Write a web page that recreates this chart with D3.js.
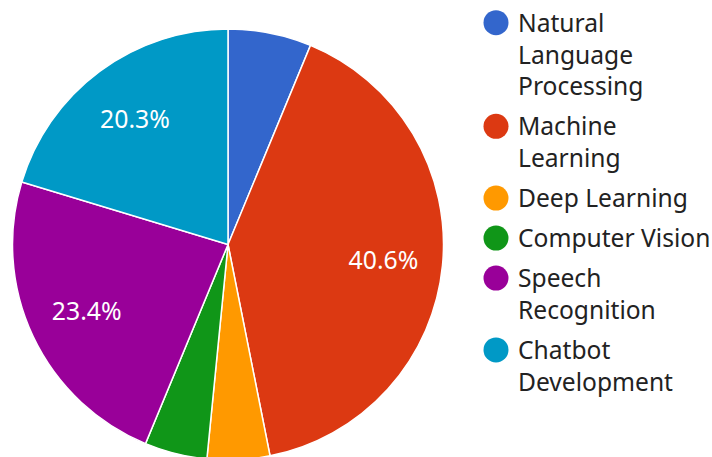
<!DOCTYPE html>
<html><head><meta charset="utf-8">
<script src="https://cdn.jsdelivr.net/npm/d3@7"></script>
<style>html,body{margin:0;padding:0;background:#fff;}svg{display:block;font-family:"Noto Sans",sans-serif;}</style>
</head><body>
<svg id="chart" width="712" height="457"></svg>
<script>
const categories = ["Natural Language Processing","Machine Learning","Deep Learning","Computer Vision","Speech Recognition","Chatbot Development"];
const legendLines = [["Natural","Language","Processing"],["Machine","Learning"],["Deep Learning"],["Computer Vision"],["Speech","Recognition"],["Chatbot","Development"]];
const values = [4, 26, 3, 3, 15, 13];
const colors = ["#3366cc","#dc3912","#ff9900","#109618","#990099","#0099c6"];

const svg = d3.select("#chart");
const cx = 228, cy = 244.5, r = 215.5;
const total = d3.sum(values);
const pie = d3.pie().sort(null).value(d => d)(values);
const arc = d3.arc().innerRadius(0).outerRadius(r);
const g = svg.append("g").attr("transform", `translate(${cx},${cy})`);
g.selectAll("path").data(pie).join("path")
  .attr("d", arc).attr("fill", (d,i) => colors[i])
  .attr("stroke", "#fff").attr("stroke-width", 1.5);

const labelArc = d3.arc().innerRadius(r*0.725).outerRadius(r*0.725);
g.selectAll("text").data(pie.filter(d => d.value/total > 0.1)).join("text")
  .attr("transform", d => `translate(${labelArc.centroid(d)})`)
  .attr("text-anchor", "middle").attr("dy", "0.35em")
  .attr("fill", "#fff").attr("font-size", 24.8)
  .text(d => (d.value/total*100).toFixed(1) + "%");

const leg = svg.append("g");
let y = 31.7;
const lh = 31.8, gap = 40;
legendLines.forEach((lines, i) => {
  leg.append("circle").attr("cx", 496).attr("cy", y - 9).attr("r", 12.5).attr("fill", colors[i]);
  const t = leg.append("text").attr("x", 518).attr("y", y).attr("font-size", 24.6).attr("fill", "#222");
  lines.forEach((ln, j) => t.append("tspan").attr("x", 518).attr("y", y + j*lh).text(ln));
  y += (lines.length - 1)*lh + gap;
});
</script>
</body></html>
